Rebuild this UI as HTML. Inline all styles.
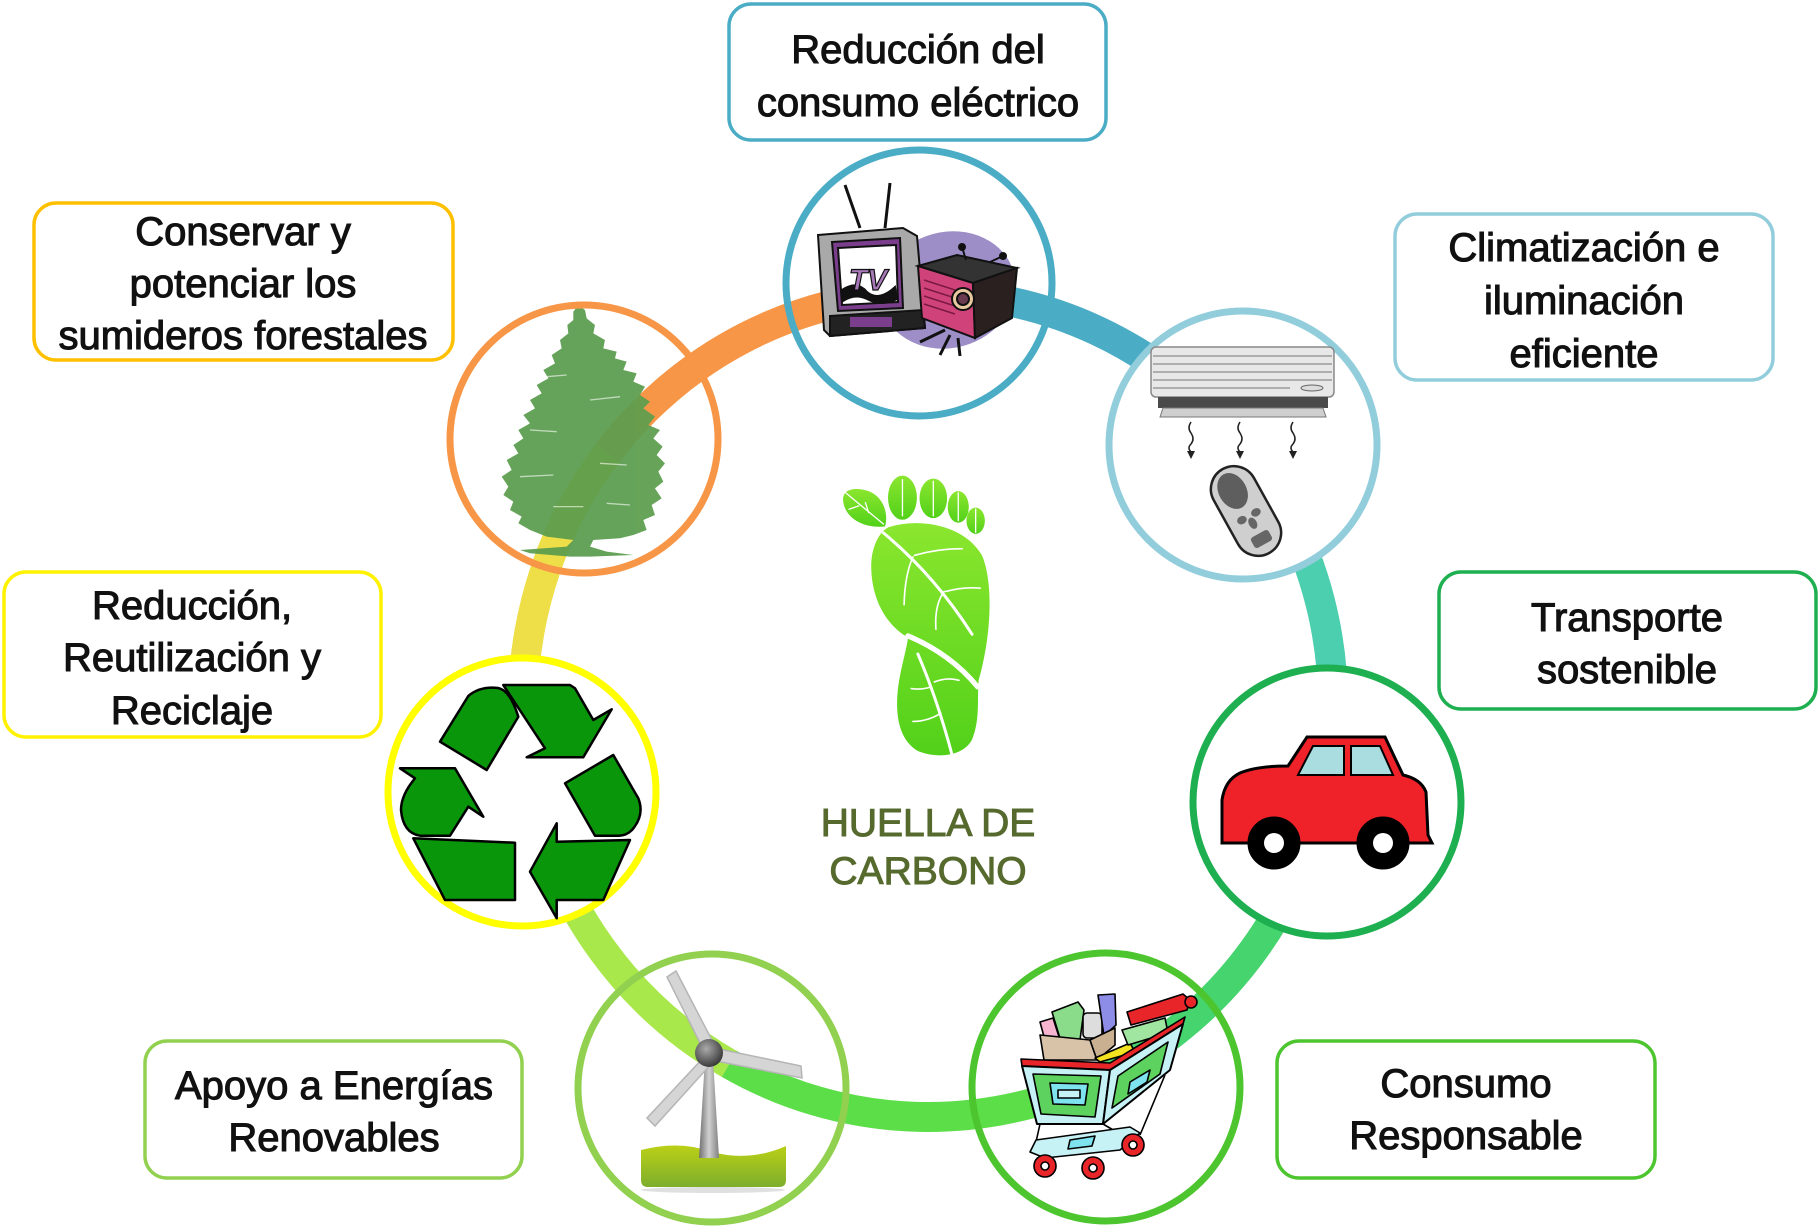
<!DOCTYPE html>
<html><head><meta charset="utf-8"><style>html,body{margin:0;padding:0;background:#fff}svg{display:block}</style></head>
<body>
<svg width="1820" height="1229" viewBox="0 0 1820 1229" xmlns="http://www.w3.org/2000/svg">
<defs>
<linearGradient id="foot" x1="0" y1="0" x2="0" y2="1"><stop offset="0" stop-color="#8BE62E"/><stop offset="1" stop-color="#52D11A"/></linearGradient>
<linearGradient id="ground" x1="0" y1="0" x2="0" y2="1"><stop offset="0" stop-color="#BBD016"/><stop offset="1" stop-color="#7DAE2C"/></linearGradient>
<linearGradient id="tower" x1="0" y1="0" x2="1" y2="0"><stop offset="0" stop-color="#6f6f6f"/><stop offset=".5" stop-color="#d0d0d0"/><stop offset="1" stop-color="#808080"/></linearGradient>
<radialGradient id="hub" cx=".4" cy=".35" r=".7"><stop offset="0" stop-color="#aaa"/><stop offset="1" stop-color="#333"/></radialGradient>
</defs>

<!-- Ring band -->
<g fill="none" stroke-width="30">
<path d="M607.6,453.1 A405,412 0 0 1 919.5,293.1" stroke="#F79646"/>
<path d="M919.5,293.1 A405,412 0 0 1 1240.5,442.9" stroke="#4BACC6"/>
<path d="M1240.5,442.9 A405,412 0 0 1 1321.5,802.6" stroke="#4BCFAF"/>
<path d="M1321.5,802.6 A405,412 0 0 1 1099.2,1078.4" stroke="#45D46E"/>
<path d="M1099.2,1078.4 A405,412 0 0 1 729.2,1063.9" stroke="#5CDE48"/>
<path d="M729.2,1063.9 A405,412 0 0 1 532,791.4" stroke="#A9E84B"/>
<path d="M532,791.4 A405,412 0 0 1 607.6,453.1" stroke="#EEDF48"/>
</g>

<!-- Text boxes -->
<g fill="#fff" stroke-width="3.5">
<rect x="729" y="4" width="377" height="136" rx="22" stroke="#4BACC6"/>
<rect x="1395" y="214" width="378" height="166" rx="22" stroke="#92CDDC"/>
<rect x="34" y="203" width="419" height="157" rx="22" stroke="#FFC000"/>
<rect x="4" y="572" width="377" height="165" rx="22" stroke="#FFF200"/>
<rect x="1439" y="572" width="377" height="137" rx="22" stroke="#1EAF50"/>
<rect x="145" y="1041" width="377" height="137" rx="22" stroke="#92D050"/>
<rect x="1277" y="1041" width="378" height="137" rx="22" stroke="#4DC52F"/>
</g>

<g font-family="'Liberation Sans', Arial, sans-serif" font-size="40" fill="#111" stroke="#111" stroke-width="1.1" text-anchor="middle">
<text x="918" y="63">Reducción del</text>
<text x="918" y="116">consumo eléctrico</text>
<text x="1584" y="261">Climatización e</text>
<text x="1584" y="314">iluminación</text>
<text x="1584" y="367">eficiente</text>
<text x="243" y="245">Conservar y</text>
<text x="243" y="297">potenciar los</text>
<text x="243" y="349">sumideros forestales</text>
<text x="192" y="619">Reducción,</text>
<text x="192" y="671">Reutilización y</text>
<text x="192" y="724">Reciclaje</text>
<text x="1627" y="631">Transporte</text>
<text x="1627" y="683">sostenible</text>
<text x="334" y="1099">Apoyo a Energías</text>
<text x="334" y="1151">Renovables</text>
<text x="1466" y="1097">Consumo</text>
<text x="1466" y="1149">Responsable</text>
</g>

<!-- Tree -->
<g transform="translate(480,290) scale(0.3333)" opacity="0.93">
<polygon fill="#5B9D4E" points="295,45 315,60 320,85 345,105 340,130 375,150 370,175 410,185 405,205 440,215 430,240 470,250 460,275 495,290 480,315 510,335 490,355 525,380 505,405 540,420 520,445 548,470 530,495 555,520 535,545 550,575 525,595 545,625 515,645 525,675 490,690 500,720 460,735 420,745 340,750 330,770 380,785 460,795 330,800 270,800 150,790 120,780 260,770 280,750 200,740 150,720 115,700 125,680 90,660 100,635 70,615 85,590 65,560 95,540 80,510 115,490 100,465 130,445 115,420 150,400 130,375 165,355 150,330 185,310 170,285 205,265 190,240 225,220 215,195 245,175 240,150 265,130 262,105 280,90 280,65"/>
<g stroke="#fff" stroke-width="4" opacity="0.6" fill="none">
<path d="M200,260 l60,-5 M150,420 l80,5 M330,330 l90,-10 M120,560 l100,-5 M360,520 l80,5 M220,650 l90,0 M380,640 l70,5"/>
</g>
</g>

<!-- Node circles -->
<g stroke-width="7">
<circle cx="584" cy="439" r="134" fill="none" stroke="#F79646"/>
<circle cx="919" cy="283" r="133" fill="none" stroke="#4BACC6"/>
<circle cx="1243" cy="445" r="134" fill="#fff" stroke="#92CDDC"/>
<circle cx="1327" cy="802" r="134" fill="#fff" stroke="#1EAF50"/>
<circle cx="1106" cy="1087" r="134" fill="none" stroke="#4DC52F"/>
<circle cx="712" cy="1088" r="134" fill="none" stroke="#92D050"/>
<circle cx="522" cy="792" r="134" fill="#fff" stroke="#FFFF00"/>
</g>

<!-- TV & Radio -->
<g stroke="#111" stroke-width="2">
<ellipse cx="948" cy="290" rx="68" ry="58" fill="#9D8EC8" stroke="none" transform="rotate(-15 948 290)"/>
<line x1="860" y1="228" x2="845" y2="185" stroke-width="3"/>
<line x1="885" y1="228" x2="890" y2="183" stroke-width="3"/>
<polygon points="818,235 903,228 917,236 925,328 830,336 824,330" fill="#A9A9A9"/>
<polygon points="832,242 900,238 903,308 838,311" fill="#7A3E8C"/>
<polygon points="838,248 896,245 898,302 842,305" fill="#fff"/>
<path d="M842,290 q15,-10 25,2 q12,10 28,-5 l2,12 q-15,8 -30,0 q-12,-6 -24,2z" fill="#111"/>
<text x="868" y="290" font-family="'Liberation Sans',Arial,sans-serif" font-size="30" font-weight="bold" font-style="italic" fill="#A678B8" stroke="#111" stroke-width="1.2" text-anchor="middle">TV</text>
<polygon points="830,316 923,310 925,328 830,336" fill="#222"/>
<rect x="850" y="317" width="42" height="10" fill="#7A3E8C" stroke="none"/>
<polygon points="918,266 957,255 1017,268 973,283" fill="#333"/>
<polygon points="918,266 973,283 975,338 922,318" fill="#D0437A"/>
<g stroke="#7a1a40" stroke-width="1.5"><line x1="924" y1="280" x2="955" y2="290"/><line x1="924" y1="288" x2="955" y2="298"/><line x1="924" y1="296" x2="955" y2="306"/><line x1="924" y1="304" x2="955" y2="314"/></g>
<polygon points="973,283 1017,268 1012,318 975,338" fill="#2A2020"/>
<circle cx="963" cy="299" r="11" fill="#E8C9A0"/>
<circle cx="963" cy="299" r="6" fill="#6a3a50"/>
<line x1="966" y1="260" x2="962" y2="247"/><circle cx="962" cy="247" r="3" fill="#111"/>
<line x1="990" y1="262" x2="1003" y2="256"/><circle cx="1003" cy="256" r="3" fill="#111"/>
<line x1="945" y1="330" x2="920" y2="342" stroke-width="3"/>
<line x1="950" y1="335" x2="940" y2="355" stroke-width="3"/>
<line x1="958" y1="338" x2="960" y2="356" stroke-width="3"/>
</g>

<!-- AC unit -->
<g>
<rect x="1151" y="347" width="183" height="50" rx="5" fill="#E8E8E8" stroke="#888" stroke-width="1.5"/>
<g stroke="#9a9a9a" stroke-width="1.5"><line x1="1153" y1="356" x2="1332" y2="356"/><line x1="1153" y1="364" x2="1332" y2="364"/><line x1="1153" y1="372" x2="1332" y2="372"/><line x1="1153" y1="380" x2="1332" y2="380"/><line x1="1153" y1="388" x2="1290" y2="388"/></g>
<ellipse cx="1312" cy="388" rx="11" ry="3" fill="#ddd" stroke="#666"/>
<rect x="1158" y="397" width="170" height="11" fill="#4A4A4A"/>
<polygon points="1163,408 1323,408 1326,417 1160,417" fill="#CFCFCF" stroke="#777"/>
<g fill="none" stroke="#222" stroke-width="1.5">
<path d="M1191,422 q-4,6 0,11 q4,6 0,11 q-4,4 0,8"/>
<path d="M1240,422 q-4,6 0,11 q4,6 0,11 q-4,4 0,8"/>
<path d="M1293,422 q-4,6 0,11 q4,6 0,11 q-4,4 0,8"/>
</g>
<g fill="#222"><polygon points="1187,451 1195,451 1191,459"/><polygon points="1236,451 1244,451 1240,459"/><polygon points="1289,451 1297,451 1293,459"/></g>
<g transform="translate(1246,511) rotate(-29)">
<rect x="-23" y="-48" width="46" height="96" rx="23" fill="#CFCFCF" stroke="#222" stroke-width="2.5"/>
<ellipse cx="-2" cy="-24" rx="14" ry="19" fill="#5e5e5e"/>
<ellipse cx="-8" cy="6" rx="5" ry="4" fill="#666"/><ellipse cx="8" cy="6" rx="5" ry="4" fill="#666"/><ellipse cx="0" cy="14" rx="4" ry="6" fill="#666"/>
<rect x="-10" y="26" width="20" height="12" rx="3" fill="#666"/>
</g>
</g>

<!-- Car -->
<g stroke="#000" stroke-width="3">
<path d="M1222,843 L1222,800 Q1225,780 1240,773 Q1256,766 1288,766 L1307,737 L1385,737 L1403,775 Q1421,779 1426,792 L1428,835 L1432,843 Z" fill="#EE2228"/>
<polygon points="1298,775 1313,746 1344,746 1344,775" fill="#A9DDE0" stroke-width="2"/>
<polygon points="1351,746 1380,746 1393,775 1351,775" fill="#A9DDE0" stroke-width="2"/>
<circle cx="1274" cy="843" r="25" fill="#000"/>
<circle cx="1274" cy="843" r="10" fill="#fff" stroke="none"/>
<circle cx="1383" cy="843" r="25" fill="#000"/>
<circle cx="1383" cy="843" r="10" fill="#fff" stroke="none"/>
</g>

<!-- Shopping cart -->
<g stroke="#000" stroke-width="1.6" stroke-linejoin="round">
<polygon points="1127,1012 1183,994 1190,1000 1187,1010 1131,1025" fill="#E8262A"/>
<circle cx="1191" cy="1002" r="6" fill="#E8262A"/>
<polygon points="1040,1022 1053,1018 1060,1040 1046,1044" fill="#F6B4CE"/>
<polygon points="1052,1012 1078,1002 1084,1010 1080,1040 1062,1045" fill="#8ADB8A"/>
<rect x="1083" y="1013" width="19" height="25" rx="4" fill="#ddd"/>
<polygon points="1098,995 1115,994 1116,1025 1104,1036" fill="#8D8DE8"/>
<polygon points="1040,1035 1090,1040 1097,1060 1044,1060" fill="#D8C3A8"/>
<polygon points="1090,1040 1115,1028 1115,1045 1097,1060" fill="#C8B090"/>
<polygon points="1095,1058 1130,1043 1135,1052 1100,1062" fill="#F4E320"/>
<polygon points="1122,1030 1165,1018 1168,1033 1128,1045" fill="#A0E6A0"/>
<polygon points="1021,1059 1110,1063 1185,1017 1183,1024 1112,1070 1022,1066" fill="#E8262A"/>
<polygon points="1022,1066 1110,1070 1103,1124 1037,1124" fill="#C6F2F6" stroke-width="2"/>
<polygon points="1033,1074 1101,1076 1095,1117 1041,1114" fill="#5ED25E"/>
<polygon points="1050,1083 1088,1084 1085,1105 1053,1104" fill="#7EE3EE"/>
<rect x="1058" y="1090" width="22" height="8" fill="#C6F2F6"/>
<polygon points="1110,1070 1183,1024 1170,1070 1103,1124" fill="#C6F2F6" stroke-width="2"/>
<polygon points="1118,1076 1168,1042 1160,1074 1112,1108" fill="#5ED25E"/>
<polygon points="1130,1082 1150,1070 1147,1082 1128,1094" fill="#7EE3EE"/>
<line x1="1040" y1="1124" x2="1036" y2="1142"/>
<line x1="1103" y1="1124" x2="1120" y2="1134"/>
<line x1="1165" y1="1075" x2="1140" y2="1135"/>
<polygon points="1030,1152 1036,1140 1130,1127 1140,1133 1120,1150 1045,1158" fill="#C6F2F6"/>
<polygon points="1070,1140 1095,1136 1092,1146 1068,1149" fill="#7EE3EE"/>
<circle cx="1045" cy="1166" r="11" fill="#E8262A"/><circle cx="1045" cy="1166" r="4" fill="#fff"/>
<circle cx="1093" cy="1168" r="11" fill="#E8262A"/><circle cx="1093" cy="1168" r="4" fill="#fff"/>
<circle cx="1133" cy="1145" r="11" fill="#E8262A"/><circle cx="1133" cy="1145" r="4" fill="#fff"/>
</g>

<!-- Wind turbine -->
<g>
<ellipse cx="713" cy="1190" rx="72" ry="3" fill="#ccc" opacity="0.6"/>
<path d="M641,1150 Q680,1140 712,1152 Q750,1162 786,1146 L786,1180 Q786,1187 779,1187 L648,1187 Q641,1187 641,1180 Z" fill="url(#ground)"/>
<polygon points="705,1058 713,1058 719,1158 699,1158" fill="url(#tower)"/>
<g fill="#D5D5D5" stroke="#B5B5B5" stroke-width="1.5">
<polygon points="703,1049 667,977 676,971 715,1046"/>
<polygon points="714,1048 801,1066 802,1078 711,1060"/>
<polygon points="704,1057 647,1118 655,1126 713,1062"/>
</g>
<circle cx="709" cy="1053" r="14" fill="url(#hub)"/>
</g>

<!-- Recycle -->
<g fill="#0A960A" stroke="#000" stroke-width="2.5" stroke-linejoin="round">
<path d="M440,741.7 L468.3,696 Q480,686 498,688 Q510,690 518.3,716.7 L486.7,770 Z"/>
<polygon points="503.3,685 570,685 575,688.3 593.3,720 611.7,709.3 583.3,757.3 526.7,757.3 545,748.3"/>
<path d="M565,783.3 L613.3,755 L638.3,798.3 Q645,815 632,830 Q626,836 618,835.7 L595,835.7 Z"/>
<polygon points="556.7,823.3 556.7,841.7 630,840 603.3,900 556.7,900 556.7,918.3 530,871.7"/>
<polygon points="413.3,838.3 515,842.7 515,900 445,900"/>
<path d="M400,768.3 L455,768.3 L483.3,816.7 L468.3,806.7 L450,835.7 L420,835.7 Q403,833 401,810 Q401,795 415,778.3 Z"/>
</g>

<!-- Footprint -->
<g transform="translate(780,450) scale(0.3283,0.329)">
<g fill="url(#foot)">
<path d="M320,232 C260,240 195,210 192,150 C192,118 230,112 270,125 C320,145 330,200 320,232 Z"/>
<ellipse cx="373" cy="145" rx="44" ry="67"/>
<ellipse cx="467" cy="147" rx="42" ry="60"/>
<ellipse cx="543" cy="173" rx="32" ry="48"/>
<ellipse cx="596" cy="215" rx="28" ry="40"/>
<path d="M330,235 C420,205 560,225 615,320 C650,400 645,560 605,700 C600,760 610,820 585,880 C560,930 480,940 420,915 C360,880 350,800 360,720 C368,660 385,610 390,570 C320,530 280,450 278,360 C276,300 300,250 330,235 Z"/>
</g>
<g fill="none" stroke="#fff" stroke-linecap="round">
<path d="M315,252 Q470,380 585,560" stroke-width="9"/>
<path d="M390,565 Q520,620 602,720" stroke-width="16"/>
<path d="M420,620 Q480,760 525,930" stroke-width="9"/>
<path d="M405,325 Q380,380 378,470 M410,320 Q480,300 555,300 M500,430 Q470,470 475,545 M505,430 Q560,415 610,420 M460,720 Q430,730 400,725 M490,800 Q450,825 405,825 M470,705 Q510,690 545,700" stroke-width="5"/>
<path d="M200,130 L315,225 M240,170 l-30,10 M270,190 l-10,-30 M373,90 L373,200 M467,95 L467,200 M543,130 L543,215 M596,180 L596,250" stroke-width="4"/>
</g>
</g>

<g font-family="'Liberation Sans', Arial, sans-serif" font-size="39" fill="#566A2E" stroke="#566A2E" stroke-width="1.0" text-anchor="middle">
<text x="928" y="836">HUELLA DE</text>
<text x="928" y="884">CARBONO</text>
</g>
</svg>
</body></html>
